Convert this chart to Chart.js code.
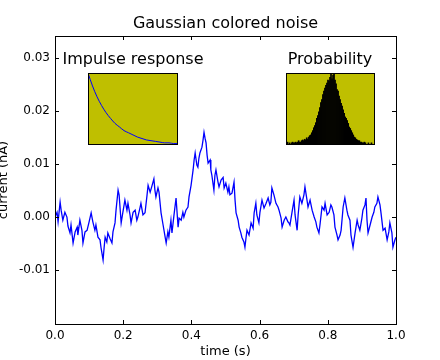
<!DOCTYPE html>
<html>
<head>
<meta charset="utf-8">
<script src="https://cdn.jsdelivr.net/npm/chart.js@4"></script>
<style>
  html, body { margin: 0; padding: 0; background: #fff; }
  #wrap { position: relative; width: 440px; height: 360px; }
  canvas { position: absolute; }
</style>
</head>
<body>
<div id="wrap">
  <canvas id="main" width="440" height="360" style="left:0;top:0"></canvas>
  <canvas id="impulse" width="90" height="72" style="left:88px;top:73px"></canvas>
  <canvas id="prob" width="89" height="72" style="left:286px;top:73px"></canvas>
</div>
<script>
'use strict';
// ***** DATA *****
let timeValues = [0.000, 0.006, 0.009, 0.015, 0.018, 0.023, 0.029, 0.035, 0.038, 0.044,
  0.047, 0.053, 0.059, 0.065, 0.067, 0.073, 0.079, 0.082, 0.088, 0.094,
  0.100, 0.106, 0.111, 0.117, 0.120, 0.126, 0.132, 0.135, 0.141, 0.144,
  0.147, 0.152, 0.155, 0.161, 0.167, 0.170, 0.176, 0.179, 0.185, 0.188,
  0.194, 0.199, 0.205, 0.211, 0.214, 0.220, 0.223, 0.229, 0.235, 0.240,
  0.243, 0.249, 0.252, 0.258, 0.264, 0.270, 0.273, 0.279, 0.284, 0.290,
  0.293, 0.296, 0.302, 0.305, 0.311, 0.317, 0.323, 0.326, 0.331, 0.334,
  0.340, 0.343, 0.349, 0.355, 0.361, 0.364, 0.370, 0.375, 0.378, 0.384,
  0.390, 0.393, 0.399, 0.405, 0.408, 0.411, 0.416, 0.419, 0.422, 0.425,
  0.431, 0.434, 0.437, 0.440, 0.443, 0.446, 0.449, 0.455, 0.457, 0.460,
  0.466, 0.469, 0.472, 0.478, 0.481, 0.487, 0.493, 0.496, 0.501, 0.507,
  0.510, 0.513, 0.519, 0.525, 0.528, 0.531, 0.537, 0.540, 0.545, 0.548,
  0.554, 0.557, 0.560, 0.563, 0.569, 0.575, 0.581, 0.584, 0.589, 0.592,
  0.598, 0.601, 0.607, 0.613, 0.619, 0.625, 0.630, 0.633, 0.636, 0.642,
  0.648, 0.654, 0.657, 0.663, 0.666, 0.672, 0.677, 0.683, 0.686, 0.689,
  0.695, 0.701, 0.704, 0.710, 0.713, 0.718, 0.724, 0.730, 0.733, 0.739,
  0.742, 0.748, 0.754, 0.760, 0.765, 0.768, 0.774, 0.777, 0.783, 0.789,
  0.792, 0.798, 0.804, 0.809, 0.812, 0.818, 0.821, 0.827, 0.830, 0.836,
  0.839, 0.845, 0.850, 0.856, 0.859, 0.865, 0.868, 0.874, 0.880, 0.886,
  0.889, 0.894, 0.900, 0.903, 0.909, 0.912, 0.915, 0.918, 0.924, 0.930,
  0.935, 0.938, 0.944, 0.947, 0.953, 0.956, 0.962, 0.968, 0.974, 0.979,
  0.982, 0.988, 0.991, 0.997, 1.000];

let currentValues = [0, 0.0009, -0.0009, 0.0028, 0.0013, -0.0006, 0.0009, 0, -0.0017, -0.0030,
  -0.0015, -0.0049, -0.0028, -0.0019, -0.0034, -0.0006, -0.0025, -0.0049, -0.0028, -0.0025,
  -0.0009, 0.0008, -0.0009, -0.0025, -0.0015, -0.0038, -0.0043, -0.0058, -0.0081, -0.0058,
  -0.0038, -0.0047, -0.0030, -0.0040, -0.0049, -0.0028, -0.0011, 0.0013, 0.0051, 0.0042,
  -0.0011, 0.0009, 0.0032, 0.0013, 0.0026, 0.0004, -0.0011, 0.0009, 0.0013, -0.0006,
  0, 0.0017, 0.0026, 0.0004, 0.0008, 0.0042, 0.0060, 0.0047, 0.0058, 0.0072,
  0.0051, 0.0038, 0.0055, 0.0047, 0.0008, -0.0015, -0.0038, -0.0049, -0.0028, -0.0038,
  -0.0006, -0.0030, 0.0004, 0.0036, -0.0019, -0.0002, -0.0006, 0.0009, 0, 0.0013,
  0.0019, 0.0038, 0.0060, 0.0089, 0.0108, 0.0121, 0.0098, 0.0094, 0.0111, 0.0121,
  0.0132, 0.0145, 0.0160, 0.0149, 0.0140, 0.0117, 0.0102, 0.0108, 0.0089, 0.0079,
  0.0051, 0.0079, 0.0089, 0.0066, 0.0057, 0.0070, 0.0075, 0.0055, 0.0064, 0.0047,
  0.0057, 0.0042, 0.0045, 0.0066, 0.0032, 0.0008, -0.0006, -0.0019, -0.0030, -0.0038,
  -0.0047, -0.0057, -0.0040, -0.0025, -0.0034, -0.0011, -0.0021, 0.0008, 0.0026, 0.0004,
  -0.0011, 0.0009, 0.0032, 0.0017, 0.0026, 0.0036, 0.0023, 0.0028, 0.0055, 0.0042,
  0.0026, 0.0019, 0.0013, -0.0002, -0.0019, -0.0006, 0, -0.0009, -0.0011, -0.0015,
  0.0009, 0.0032, 0.0004, -0.0025, 0.0004, 0.0038, 0.0026, 0.0042, 0.0057, 0.0032,
  0.0019, 0.0032, 0.0013, 0, -0.0009, -0.0019, -0.0030, -0.0015, 0.0019, 0.0013,
  0.0026, 0.0004, 0.0009, 0.0023, 0.0019, 0.0004, -0.0019, -0.0034, -0.0043, -0.0034,
  -0.0025, 0.0019, 0.0036, 0.0013, 0.0004, -0.0006, -0.0034, -0.0057, -0.0030, -0.0006,
  -0.0015, -0.0025, -0.0002, 0.0013, 0.0023, 0.0036, -0.0006, -0.0030, -0.0015, 0,
  0.0009, 0.0019, 0.0026, 0.0038, 0.0023, 0.0008, -0.0025, -0.0021, -0.0043, -0.0028,
  -0.0011, -0.0030, -0.0057, -0.0043, -0.0038];

let xTicks = [0, 0.2, 0.4, 0.6, 0.8, 1.0];
let yTicks = [-0.01, 0, 0.01, 0.02, 0.03];
let yMin = -0.0202;
let yMax = 0.0342;

// inset: impulse response
let impulseTime = [0, 0.01, 0.02, 0.03, 0.04, 0.05, 0.06, 0.07, 0.08, 0.09, 0.10,
  0.11, 0.12, 0.13, 0.14, 0.15, 0.16, 0.17, 0.18, 0.19, 0.20];
let impulseValues = [1, 0.82, 0.67, 0.55, 0.45, 0.37, 0.30, 0.25, 0.20, 0.17, 0.14,
  0.11, 0.09, 0.07, 0.06, 0.05, 0.04, 0.03, 0.03, 0.02, 0.02];

// inset: probability histogram (relative height of each bin)
let histValues = [0.03, 0.04, 0.01, 0.03, 0.01, 0.03, 0.04, 0.03, 0.03, 0.04,
  0.03, 0.04, 0.06, 0.04, 0.04, 0.06, 0.07, 0.06, 0.08, 0.07,
  0.10, 0.08, 0.11, 0.13, 0.14, 0.17, 0.20, 0.24, 0.27, 0.31,
  0.37, 0.41, 0.46, 0.52, 0.59, 0.63, 0.70, 0.75, 0.79, 0.83,
  0.86, 0.90, 0.89, 0.94, 0.98, 0.92, 0.97, 0.99, 0.90, 0.85,
  0.77, 0.75, 0.68, 0.63, 0.58, 0.54, 0.49, 0.44, 0.39, 0.37,
  0.34, 0.30, 0.25, 0.23, 0.20, 0.17, 0.14, 0.11, 0.10, 0.08,
  0.07, 0.06, 0.06, 0.04, 0.04, 0.03, 0.03, 0.04, 0.03, 0.01,
  0.01, 0.03, 0.01, 0.01, 0.03, 0.01, 0.01, 0.01];

// ***** DEFAULTS *****
Chart.defaults.font.family = '"DejaVu Sans", sans-serif';
Chart.defaults.font.size = 12;
Chart.defaults.color = '#000';
Chart.defaults.animation = false;

let insetColor = '#bfbf00';

// ***** PLUGINS *****
// frame, inward ticks and texts for the main axes
let mainDecor = {
  id: 'mainDecor',
  afterDraw(chart) {
    let ctx = chart.ctx;
    let a = chart.chartArea;
    let x = chart.scales.x;
    let y = chart.scales.y;
    ctx.save();
    ctx.strokeStyle = '#000';
    ctx.lineWidth = 1;
    ctx.strokeRect(Math.round(a.left) + 0.5, Math.round(a.top) + 0.5,
      Math.round(a.right - a.left), Math.round(a.bottom - a.top));
    ctx.beginPath();
    xTicks.forEach((v) => {
      let px = Math.round(x.getPixelForValue(v)) + 0.5;
      ctx.moveTo(px, a.bottom); ctx.lineTo(px, a.bottom - 4);
      ctx.moveTo(px, a.top); ctx.lineTo(px, a.top + 4);
    });
    yTicks.forEach((v) => {
      let py = Math.round(y.getPixelForValue(v)) + 0.5;
      ctx.moveTo(a.left, py); ctx.lineTo(a.left + 4, py);
      ctx.moveTo(a.right, py); ctx.lineTo(a.right - 4, py);
    });
    ctx.stroke();

    ctx.fillStyle = '#000';
    ctx.textAlign = 'center';
    ctx.textBaseline = 'alphabetic';
    ctx.font = '16px "DejaVu Sans", sans-serif';
    ctx.fillText('Gaussian colored noise', (a.left + a.right) / 2, 28);
    ctx.fillText('Impulse response', 133, 64);
    ctx.fillText('Probability', 330, 64);

    ctx.font = '13px "DejaVu Sans", sans-serif';
    ctx.fillText('time (s)', (a.left + a.right) / 2, 355);
    ctx.translate(7, (a.top + a.bottom) / 2);
    ctx.rotate(-Math.PI / 2);
    ctx.fillText('current (nA)', 0, 0);
    ctx.restore();
  }
};

// olive background and black frame for the insets
let insetDecor = {
  id: 'insetDecor',
  beforeDraw(chart) {
    let ctx = chart.ctx;
    ctx.save();
    ctx.fillStyle = insetColor;
    ctx.fillRect(0, 0, chart.width, chart.height);
    ctx.restore();
  },
  afterDraw(chart) {
    let ctx = chart.ctx;
    ctx.save();
    ctx.strokeStyle = '#000';
    ctx.lineWidth = 1;
    ctx.strokeRect(0.5, 0.5, chart.width - 1, chart.height - 1);
    ctx.restore();
  }
};

// ***** MAIN CHART *****
new Chart(document.getElementById('main'), {
  type: 'line',
  data: {
    datasets: [{
      data: timeValues.map((t, i) => ({ x: t, y: currentValues[i] })),
      borderColor: '#0000ff',
      borderWidth: 1.3,
      pointRadius: 0,
      tension: 0,
      fill: false
    }]
  },
  options: {
    responsive: false,
    layout: { padding: { top: 36, right: 44, left: 0, bottom: 0 } },
    plugins: { legend: { display: false }, tooltip: { enabled: false }, title: { display: false } },
    scales: {
      x: {
        type: 'linear',
        min: 0,
        max: 1,
        grid: { display: false, drawTicks: false },
        border: { display: false },
        afterBuildTicks: (scale) => { scale.ticks = xTicks.map((v) => ({ value: v })); },
        afterFit: (scale) => { scale.height = 36; },
        ticks: { padding: 5, maxRotation: 0, callback: (v) => Number(v).toFixed(1) }
      },
      y: {
        type: 'linear',
        min: yMin,
        max: yMax,
        grid: { display: false, drawTicks: false },
        border: { display: false },
        afterBuildTicks: (scale) => { scale.ticks = yTicks.map((v) => ({ value: v })); },
        afterFit: (scale) => { scale.width = 55; },
        ticks: { padding: 5, callback: (v) => Number(v).toFixed(2) }
      }
    }
  },
  plugins: [mainDecor]
});

// ***** IMPULSE INSET *****
new Chart(document.getElementById('impulse'), {
  type: 'line',
  data: {
    datasets: [{
      data: impulseTime.map((t, i) => ({ x: t, y: impulseValues[i] })),
      borderColor: '#0000ff',
      borderWidth: 1,
      pointRadius: 0,
      cubicInterpolationMode: 'monotone',
      fill: false
    }]
  },
  options: {
    responsive: false,
    layout: { padding: 0 },
    plugins: { legend: { display: false }, tooltip: { enabled: false } },
    scales: {
      x: { type: 'linear', min: 0, max: 0.2, display: false },
      y: { type: 'linear', min: 0, max: 1, display: false }
    }
  },
  plugins: [insetDecor]
});

// ***** PROBABILITY INSET *****
new Chart(document.getElementById('prob'), {
  type: 'bar',
  data: {
    labels: histValues.map((_, i) => i),
    datasets: [{
      data: histValues,
      backgroundColor: '#000',
      borderWidth: 0,
      barPercentage: 1,
      categoryPercentage: 1
    }]
  },
  options: {
    responsive: false,
    layout: { padding: 0 },
    plugins: { legend: { display: false }, tooltip: { enabled: false } },
    scales: {
      x: { display: false },
      y: { min: 0, max: 1, display: false }
    }
  },
  plugins: [insetDecor]
});
</script>
</body>
</html>
